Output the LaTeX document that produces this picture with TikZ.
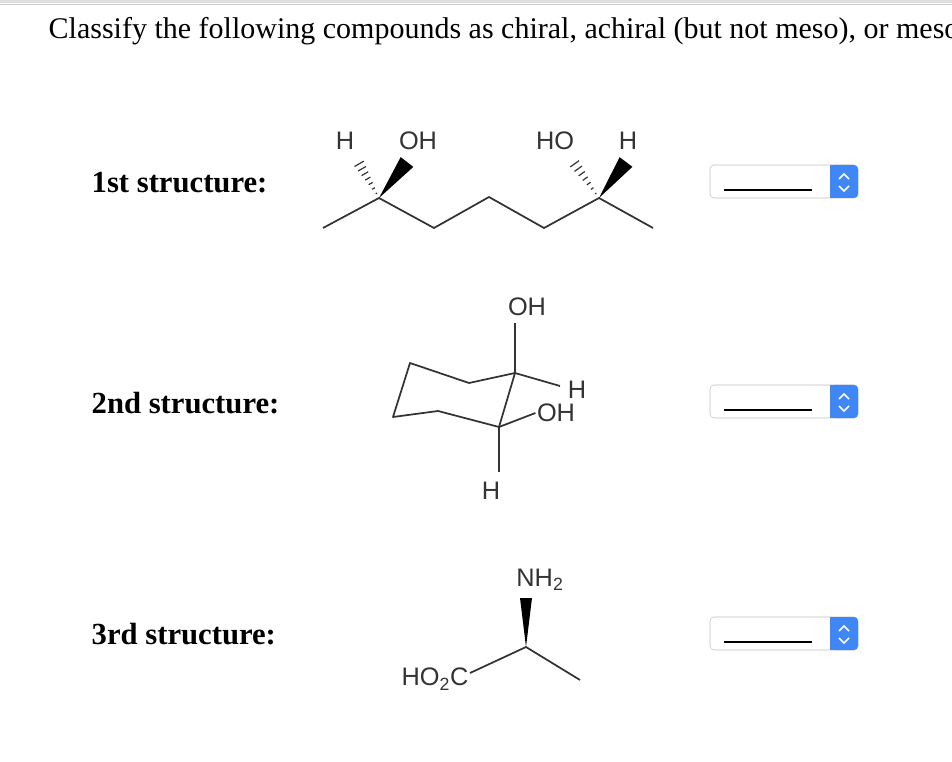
\documentclass[tikz,border=0pt]{standalone}
\usepackage{fontspec}
\setmainfont{Liberation Serif}
\newfontfamily\chemfont{Liberation Sans}
\usetikzlibrary{calc}
\definecolor{bondgray}{HTML}{333333}
\definecolor{selblue}{HTML}{3F87F5}
\tikzset{
  bond/.style={bondgray,line width=1.3pt},
  atom/.style={font=\chemfont\fontsize{19}{19}\selectfont,text=bondgray,inner sep=1pt},
  rowlabel/.style={font=\bfseries\fontsize{23}{23}\selectfont,anchor=west},
  wedge/.style={fill=black},
}
\newcommand{\hashbond}[2]{%
  \foreach \t in {0.12,0.25,...,1.0} {
    \coordinate (hp) at ($(#1)!\t!(#2)$);
    \draw[bondgray,line width=0.9pt] ($(hp)!{4.5pt*\t}!90:(#2)$) -- ($(hp)!{4.5pt*\t}!-90:(#2)$);
  }}
\newcommand{\dropbox}[1]{%
  \draw[gray!50,fill=white,rounded corners=3pt] (710,#1-17) rectangle (858,#1+16);
  \fill[selblue,rounded corners=3pt] (830,#1-17) rectangle (858,#1+16);
  \fill[selblue] (830,#1-17) rectangle (840,#1+16);
  \draw[black,line width=1pt] (724,#1+8) -- (812,#1+8);
  \draw[white,line width=1.3pt] (839,#1-3) -- (844,#1-8) -- (849,#1-3);
  \draw[white,line width=1.3pt] (839,#1+4) -- (844,#1+9) -- (849,#1+4);}
\begin{document}
\begin{tikzpicture}[x=0.75pt,y=-0.75pt]
\useasboundingbox (0,0) rectangle (952,762);
\clip (0,0) rectangle (952,762);
\fill[gray!25] (0,0) rectangle (952,3);
\draw[gray!40] (0,4) -- (952,4);
\node[anchor=west,font=\fontsize{22.5}{22.5}\selectfont] (title) at (44,31)
  {Classify the following compounds as chiral, achiral (but not meso), or meso.};
% row labels
\node[rowlabel] (lab1) at (87,183) {1st structure:};
\node[rowlabel] (lab2) at (87,403) {2nd structure:};
\node[rowlabel] (lab3) at (87,634) {3rd structure:};
% dropdowns
\dropbox{182}
\dropbox{402}
\dropbox{634}
% 1st structure
\coordinate (m1) at (323,228);
\coordinate (c2) at (379,198);
\coordinate (c3) at (434,228);
\coordinate (c4) at (489,197);
\coordinate (c5) at (544,228);
\coordinate (c6) at (599,198);
\coordinate (m7) at (653,228);
\draw[bond,line join=round] (m1) -- (c2) -- (c3) -- (c4) -- (c5) -- (c6) -- (m7);
\node[atom] (h2) at (345,141) {H};
\node[atom] (oh2) at (418,141) {OH};
\node[atom] (ho6) at (555,141) {HO};
\node[atom] (h6) at (628,141) {H};
\coordinate (w2) at (407,162);
\coordinate (w6) at (626,162);
\fill[wedge] (c2) -- ($(w2)!6pt!90:(c2)$) -- ($(w2)!6pt!-90:(c2)$) -- cycle;
\fill[wedge] (c6) -- ($(w6)!6pt!90:(c6)$) -- ($(w6)!6pt!-90:(c6)$) -- cycle;
\coordinate (d2) at (357,160);
\coordinate (d6) at (572,160);
\hashbond{c2}{d2}
\hashbond{c6}{d6}
% 2nd structure
\coordinate (ra) at (410,363);
\coordinate (rb) at (469,383);
\coordinate (r1) at (515,373);
\coordinate (r2) at (499,427);
\coordinate (rd) at (438,411);
\coordinate (re) at (393,417);
\draw[bond,line join=round] (ra) -- (rb) -- (r1) -- (r2) -- (rd) -- (re) -- cycle;
\node[atom] (oh1) at (527,307) {OH};
\node[atom] (h1) at (577,390) {H};
\node[atom] (ohb) at (556,413) {OH};
\node[atom] (hb) at (491,491) {H};
\draw[bond] (r1) -- (515,323);
\draw[bond] (r1) -- (560,386);
\draw[bond] (r2) -- (ohb.west);
\draw[bond] (r2) -- (499,472);
% 3rd structure
\coordinate (ca) at (526,647);
\node[atom] (nh2) at (540,580) {NH\textsubscript{2}};
\node[atom] (acid) at (435,679) {HO\textsubscript{2}C};
\fill[wedge] (ca) -- (520,598) -- (532,598) -- cycle;
\draw[bond] (acid.east) ++(0,-6) -- (ca) -- (580,680);
\end{tikzpicture}
\end{document}
